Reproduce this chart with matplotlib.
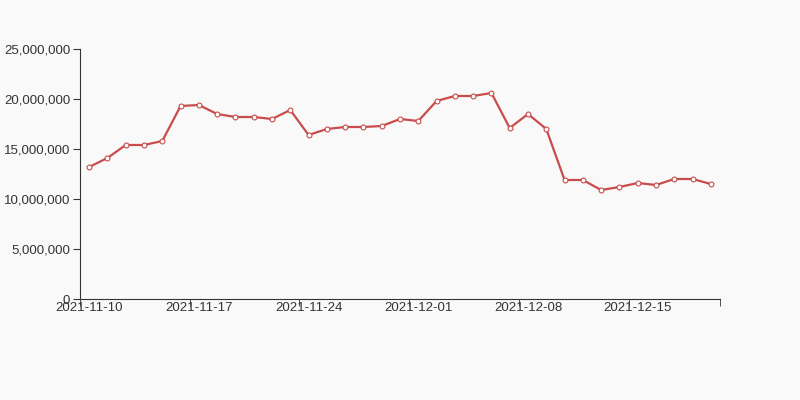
import matplotlib
matplotlib.use("Agg")
import matplotlib.pyplot as plt
from matplotlib.ticker import FuncFormatter, FixedLocator

plt.rcParams["font.family"] = ["Liberation Sans", "DejaVu Sans"]

dates = ["2021-11-10","2021-11-11","2021-11-12","2021-11-14","2021-11-15","2021-11-16",
         "2021-11-17","2021-11-18","2021-11-19","2021-11-21","2021-11-22","2021-11-23",
         "2021-11-24","2021-11-25","2021-11-26","2021-11-28","2021-11-29","2021-11-30",
         "2021-12-01","2021-12-02","2021-12-03","2021-12-05","2021-12-06","2021-12-07",
         "2021-12-08","2021-12-09","2021-12-10","2021-12-12","2021-12-13","2021-12-14",
         "2021-12-15","2021-12-16","2021-12-17","2021-12-19","2021-12-20"]
values = [13.2,14.1,15.4,15.4,15.8,19.3,19.4,18.5,18.2,18.2,18.0,18.9,16.4,17.0,17.2,17.2,
          17.3,18.0,17.8,19.8,20.3,20.3,20.6,17.1,18.5,17.0,11.9,11.9,10.9,11.2,11.6,11.4,
          12.0,12.0,11.5]
values = [v * 1e6 for v in values]

bg = "#f9f9f9"
fig = plt.figure(figsize=(8, 4), dpi=100, facecolor=bg)
ax = fig.add_axes([0.1, 0.2525, 0.8, 0.625], facecolor=bg)
x = list(range(len(values)))
ax.plot(x, values, color="#c94c4c", lw=1.6, marker="o", ms=3.5,
        markerfacecolor="white", markeredgecolor="#c94c4c", markeredgewidth=0.8, zorder=3)
ax.set_xlim(-0.5, len(values) - 0.5)
ax.set_ylim(0, 25e6)
ax.set_yticks([0, 5e6, 10e6, 15e6, 20e6, 25e6])
ax.yaxis.set_major_formatter(FuncFormatter(lambda v, p: f"{int(v):,}"))
lab_idx = list(range(0, len(values), 6))
ax.set_xticks(lab_idx)
ax.set_xticklabels([dates[i] for i in lab_idx])
ax.xaxis.set_minor_locator(FixedLocator([i - 0.5 for i in lab_idx] + [len(values) - 0.5]))
ax.tick_params(axis="x", which="major", length=0, pad=2)
ax.tick_params(axis="x", which="minor", length=5, color="#333333")
ax.tick_params(axis="y", length=5, color="#333333", pad=2)
ax.tick_params(labelsize=9.5, labelcolor="#333333")
for s in ["top", "right"]:
    ax.spines[s].set_visible(False)
for s in ["left", "bottom"]:
    ax.spines[s].set_color("#333333")
fig.savefig("out.png", dpi=100, facecolor=bg)
